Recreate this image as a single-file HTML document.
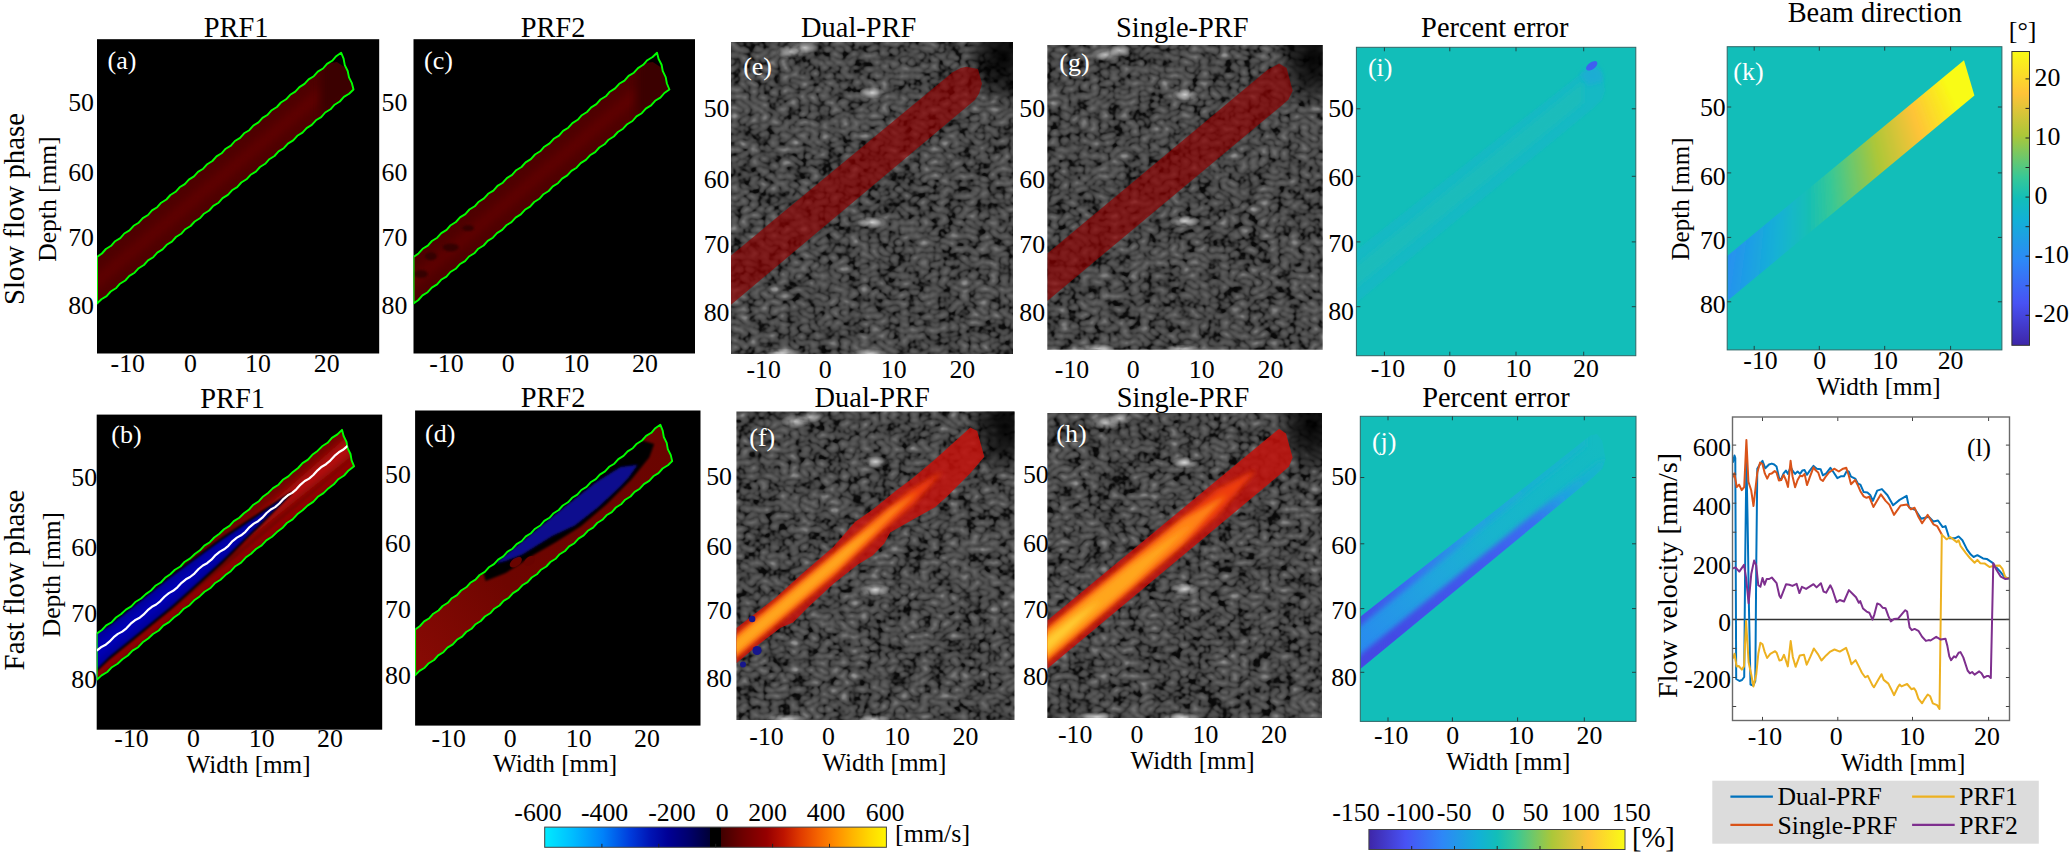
<!DOCTYPE html>
<html lang="en"><head><meta charset="utf-8"><title>Dual-PRF vector flow figure</title>
<style>
html,body{margin:0;padding:0;background:#fff;}
body{width:2070px;height:854px;overflow:hidden;}
svg{display:block;font-family:"Liberation Serif", serif;}
</style></head><body>
<svg width="2070" height="854" viewBox="0 0 2070 854">
<defs><clipPath id="cp_a"><rect x="97.0" y="39.2" width="282.2" height="314.3"/></clipPath>
<clipPath id="cp_c"><rect x="413.5" y="39.2" width="281.5" height="314.3"/></clipPath>
<clipPath id="cp_e"><rect x="730.9" y="42.0" width="282.1" height="312.1"/></clipPath>
<clipPath id="cp_g"><rect x="1047.3" y="45.0" width="275.4" height="304.7"/></clipPath>
<clipPath id="cp_i"><rect x="1356.4" y="47.3" width="279.4" height="308.4"/></clipPath>
<clipPath id="cp_k"><rect x="1727.2" y="46.7" width="274.7" height="303.2"/></clipPath>
<clipPath id="cp_b"><rect x="96.7" y="414.6" width="285.5" height="315.1"/></clipPath>
<clipPath id="cp_d"><rect x="415.1" y="410.5" width="285.4" height="315.1"/></clipPath>
<clipPath id="cp_f"><rect x="736.4" y="411.6" width="278.1" height="308.3"/></clipPath>
<clipPath id="cp_h"><rect x="1047.3" y="413.0" width="274.7" height="304.9"/></clipPath>
<clipPath id="cp_j"><rect x="1360.3" y="416.3" width="275.7" height="305.1"/></clipPath>
<clipPath id="cp_l"><rect x="1732.6" y="417.4" width="276.9" height="303.1"/></clipPath>

<filter id="spk" x="0" y="0" width="100%" height="100%" color-interpolation-filters="sRGB">
  <feTurbulence type="turbulence" baseFrequency="0.10 0.15" numOctaves="2" seed="7" result="n"/>
  <feColorMatrix in="n" type="matrix" values="1 0 0 0 0  1 0 0 0 0  1 0 0 0 0  0 0 0 0 1" result="g"/>
  <feGaussianBlur in="g" stdDeviation="0.9" result="gb"/>
  <feComponentTransfer in="gb" result="gt">
    <feFuncR type="table" tableValues="0.020 0.025 0.031 0.036 0.059 0.135 0.187 0.230 0.255 0.280 0.293 0.305 0.317 0.327 0.337 0.346 0.357 0.369 0.383 0.399 0.415 0.431 0.451 0.471 0.490 0.510 0.530 0.550 0.565 0.581 0.596 0.611 0.627 0.642 0.658 0.673 0.688 0.704 0.719 0.735 0.750"/>
    <feFuncG type="table" tableValues="0.020 0.025 0.031 0.036 0.059 0.135 0.187 0.230 0.255 0.280 0.293 0.305 0.317 0.327 0.337 0.346 0.357 0.369 0.383 0.399 0.415 0.431 0.451 0.471 0.490 0.510 0.530 0.550 0.565 0.581 0.596 0.611 0.627 0.642 0.658 0.673 0.688 0.704 0.719 0.735 0.750"/>
    <feFuncB type="table" tableValues="0.020 0.025 0.031 0.036 0.059 0.135 0.187 0.230 0.255 0.280 0.293 0.305 0.317 0.327 0.337 0.346 0.357 0.369 0.383 0.399 0.415 0.431 0.451 0.471 0.490 0.510 0.530 0.550 0.565 0.581 0.596 0.611 0.627 0.642 0.658 0.673 0.688 0.704 0.719 0.735 0.750"/>
  </feComponentTransfer>
  <feGaussianBlur in="gt" stdDeviation="0.5"/>
</filter>
<filter id="b1" x="-20%" y="-20%" width="140%" height="140%"><feGaussianBlur stdDeviation="1.2"/></filter>
<filter id="b2" x="-20%" y="-20%" width="140%" height="140%"><feGaussianBlur stdDeviation="2.5"/></filter>
<filter id="b3" x="-20%" y="-20%" width="140%" height="140%"><feGaussianBlur stdDeviation="4"/></filter>
<filter id="b6" x="-30%" y="-30%" width="160%" height="160%"><feGaussianBlur stdDeviation="7"/></filter>
<radialGradient id="dk" cx="0.5" cy="0.5" r="0.5">
  <stop offset="0" stop-color="#000" stop-opacity="0.95"/>
  <stop offset="0.5" stop-color="#000" stop-opacity="0.6"/>
  <stop offset="1" stop-color="#000" stop-opacity="0"/>
</radialGradient>
<radialGradient id="br" cx="0.5" cy="0.5" r="0.5">
  <stop offset="0" stop-color="#fff" stop-opacity="0.72"/>
  <stop offset="0.5" stop-color="#fff" stop-opacity="0.36"/>
  <stop offset="1" stop-color="#fff" stop-opacity="0"/>
</radialGradient>

<linearGradient id="parH" x1="0" x2="1" y1="0" y2="0"><stop offset="0.0000" stop-color="rgb(62,38,168)"/><stop offset="0.1429" stop-color="rgb(72,82,244)"/><stop offset="0.2857" stop-color="rgb(46,135,247)"/><stop offset="0.4286" stop-color="rgb(18,177,214)"/><stop offset="0.5000" stop-color="rgb(18,190,185)"/><stop offset="0.5714" stop-color="rgb(55,200,151)"/><stop offset="0.7143" stop-color="rgb(171,199,57)"/><stop offset="0.8571" stop-color="rgb(254,195,56)"/><stop offset="1.0000" stop-color="rgb(249,251,21)"/></linearGradient>
<linearGradient id="parV" x1="0" x2="0" y1="1" y2="0"><stop offset="0.0000" stop-color="rgb(62,38,168)"/><stop offset="0.1429" stop-color="rgb(72,82,244)"/><stop offset="0.2857" stop-color="rgb(46,135,247)"/><stop offset="0.4286" stop-color="rgb(18,177,214)"/><stop offset="0.5000" stop-color="rgb(18,190,185)"/><stop offset="0.5714" stop-color="rgb(55,200,151)"/><stop offset="0.7143" stop-color="rgb(171,199,57)"/><stop offset="0.8571" stop-color="rgb(254,195,56)"/><stop offset="1.0000" stop-color="rgb(249,251,21)"/></linearGradient>
<linearGradient id="velH" x1="0" x2="1" y1="0" y2="0"><stop offset="0.0000" stop-color="rgb(0,235,255)"/><stop offset="0.0800" stop-color="rgb(0,190,255)"/><stop offset="0.1700" stop-color="rgb(0,130,250)"/><stop offset="0.2500" stop-color="rgb(0,60,220)"/><stop offset="0.3100" stop-color="rgb(0,20,180)"/><stop offset="0.3600" stop-color="rgb(0,0,150)"/><stop offset="0.4200" stop-color="rgb(0,0,110)"/><stop offset="0.4834" stop-color="rgb(0,0,55)"/><stop offset="0.4836" stop-color="rgb(0,0,0)"/><stop offset="0.5165" stop-color="rgb(0,0,0)"/><stop offset="0.5167" stop-color="rgb(65,0,0)"/><stop offset="0.5800" stop-color="rgb(110,0,0)"/><stop offset="0.6500" stop-color="rgb(150,0,0)"/><stop offset="0.7000" stop-color="rgb(190,20,0)"/><stop offset="0.7500" stop-color="rgb(225,60,0)"/><stop offset="0.8000" stop-color="rgb(245,100,0)"/><stop offset="0.8500" stop-color="rgb(255,140,0)"/><stop offset="0.9000" stop-color="rgb(255,180,0)"/><stop offset="0.9500" stop-color="rgb(255,215,0)"/><stop offset="1.0000" stop-color="rgb(255,245,0)"/></linearGradient>
<clipPath id="cb_a"><polygon points="97.0,257.0 341.1,52.7 353.5,89.5 97.0,303.5"/></clipPath>
<clipPath id="cb_c"><polygon points="413.5,257.0 657.0,52.7 669.4,89.5 413.5,303.5"/></clipPath>
<clipPath id="cb_b"><polygon points="96.7,633.6 121.2,614.0 145.8,594.1 170.3,574.2 194.8,554.0 219.4,533.7 243.9,513.3 268.4,492.7 292.9,471.9 317.5,450.9 342.0,429.8 354.1,466.3 328.3,488.4 302.6,510.3 276.9,532.1 251.1,553.7 225.4,575.1 199.7,596.4 173.9,617.5 148.2,638.5 122.4,659.3 96.7,679.9"/></clipPath>
<clipPath id="cb_d"><polygon points="415.1,629.5 660.3,424.7 672.2,461.1 415.1,675.2"/></clipPath>
<linearGradient id="gd" gradientUnits="userSpaceOnUse" x1="415.1" y1="652.2" x2="666.8" y2="443.0"><stop offset="0" stop-color="#860a04"/><stop offset="0.35" stop-color="#6e0500"/><stop offset="1" stop-color="#6a0400"/></linearGradient>
<clipPath id="cp_bf"><polygon points="736.4,628.0 775.3,598.1 801.8,574.1 833.2,546.9 854.9,522.0 872.7,509.6 895.5,491.1 911.6,479.1 935.1,459.2 970.3,427.6 977.2,431.0 984.3,456.8 970.3,473.2 958.5,484.9 946.8,496.7 935.1,507.2 913.0,519.5 890.2,532.5 884.3,543.6 872.7,555.6 857.9,564.5 833.2,583.9 808.7,606.8 793.1,622.5 780.6,627.7 757.8,645.3 736.4,663.2"/></clipPath>
<clipPath id="cp_bh"><polygon points="1047.3,620.6 1279.1,428.7 1286.0,433.4 1292.6,457.4 1289.0,466.4 1279.7,474.7 1047.3,668.8"/></clipPath>
<linearGradient id="gj" gradientUnits="userSpaceOnUse" x1="1360.3" y1="642.7" x2="1600.7" y2="446.8"><stop offset="0" stop-color="rgb(40,140,238)"/><stop offset="0.3" stop-color="rgb(32,165,222)"/><stop offset="0.55" stop-color="rgb(24,180,205)"/><stop offset="0.8" stop-color="rgb(20,185,198)"/><stop offset="1" stop-color="rgb(20,187,194)"/></linearGradient>
<linearGradient id="gjl" gradientUnits="userSpaceOnUse" x1="1360.3" y1="642.7" x2="1600.7" y2="446.8"><stop offset="0" stop-color="rgb(68,70,226)"/><stop offset="0.5" stop-color="rgb(64,92,238)"/><stop offset="0.68" stop-color="rgb(56,112,240)"/><stop offset="0.80" stop-color="rgb(32,160,226)"/><stop offset="0.9" stop-color="rgb(24,178,208)"/><stop offset="1" stop-color="rgb(21,184,200)"/></linearGradient>
<linearGradient id="gju" gradientUnits="userSpaceOnUse" x1="1360.3" y1="642.7" x2="1600.7" y2="446.8"><stop offset="0" stop-color="rgb(66,74,228)"/><stop offset="0.25" stop-color="rgb(56,110,240)"/><stop offset="0.5" stop-color="rgb(34,160,226)"/><stop offset="0.75" stop-color="rgb(24,178,208)"/><stop offset="1" stop-color="rgb(21,184,200)"/></linearGradient>
<clipPath id="cb_j"><polygon points="1360.3,616.8 1580.9,443.1 1590.5,435.2 1596.9,433.7 1602.4,440.7 1605.7,459.0 1602.4,468.8 1591.9,478.2 1360.3,668.9"/></clipPath>
<clipPath id="cb_k"><polygon points="1727.2,255.9 1964.0,60.2 1974.4,95.5 1727.2,301.1"/></clipPath></defs>
<rect x="0" y="0" width="2070" height="854" fill="#fff"/>
<rect x="97.0" y="39.2" width="282.2" height="314.3" fill="#000" />
<g clip-path="url(#cp_a)">
<g clip-path="url(#cb_a)">
<polygon points="97.0,257.0 341.1,52.7 353.5,89.5 97.0,303.5" fill="#4e0000"/>
<polygon points="92.0,277.5 321.0,85.5 321.0,101.2 92.0,293.2" fill="#5e0000" filter="url(#b3)"/>
<polygon points="321.0,64.2 358.3,32.9 358.3,89.4 321.0,120.7" fill="#3a0000" filter="url(#b3)"/>
<polygon points="324.2,63.7 343.9,49.6 344.5,66.9 336.9,62.1" fill="#000"/>
</g>
<polygon points="97.0,257.0 101.9,253.5 105.9,249.0 111.1,245.8 115.1,241.2 120.3,238.1 124.3,233.5 129.5,230.4 133.6,225.8 138.7,222.7 142.8,218.1 148.0,215.0 152.0,210.4 157.2,207.2 161.2,202.7 166.4,199.5 170.4,195.0 175.6,191.8 179.6,187.3 184.8,184.1 188.8,179.6 194.0,176.4 198.0,171.9 203.2,168.7 207.2,164.2 212.4,161.0 216.5,156.4 221.6,153.3 225.7,148.7 230.9,145.6 234.9,141.0 240.1,137.9 244.1,133.3 249.3,130.2 253.3,125.6 258.5,122.4 262.5,117.9 267.7,114.7 271.7,110.2 276.9,107.0 280.9,102.5 286.1,99.3 290.2,94.8 295.3,91.6 299.4,87.1 304.5,83.9 308.6,79.4 313.8,76.2 317.8,71.6 323.0,68.5 327.0,63.9 332.2,60.8 336.2,56.2 341.1,52.7 343.6,58.7 344.8,65.1 347.7,71.0 349.0,77.4 351.9,83.2 353.5,89.5 349.1,93.7 343.9,96.9 339.8,101.5 334.6,104.7 330.5,109.3 325.2,112.5 321.2,117.1 315.9,120.3 311.8,124.9 306.6,128.1 302.5,132.6 297.3,135.8 293.2,140.4 287.9,143.6 283.8,148.2 278.6,151.4 274.5,156.0 269.3,159.2 265.2,163.8 260.0,167.0 255.9,171.6 250.6,174.8 246.5,179.3 241.3,182.5 237.2,187.1 232.0,190.3 227.9,194.9 222.6,198.1 218.6,202.7 213.3,205.9 209.2,210.5 204.0,213.7 199.9,218.3 194.7,221.5 190.6,226.0 185.3,229.2 181.2,233.8 176.0,237.0 171.9,241.6 166.7,244.8 162.6,249.4 157.3,252.6 153.3,257.2 148.0,260.4 143.9,265.0 138.7,268.2 134.6,272.7 129.4,275.9 125.3,280.5 120.0,283.7 115.9,288.3 110.7,291.5 106.6,296.1 101.4,299.3 97.0,303.5 97.0,296.9 97.0,290.2 97.0,283.6 97.0,276.9 97.0,270.3 97.0,263.7" fill="none" stroke="#00ff00" stroke-width="1.9" stroke-linejoin="round"/>
</g>
<rect x="413.5" y="39.2" width="281.5" height="314.3" fill="#000" />
<g clip-path="url(#cp_c)">
<g clip-path="url(#cb_c)">
<polygon points="413.5,257.0 657.0,52.7 669.4,89.5 413.5,303.5" fill="#4e0000"/>
<polygon points="408.5,277.5 637.0,85.5 637.0,101.2 408.5,293.2" fill="#5e0000" filter="url(#b3)"/>
<ellipse cx="420.9" cy="274.0" rx="7" ry="4" fill="#360000" filter="url(#b1)"/>
<ellipse cx="430.9" cy="256.2" rx="6" ry="4" fill="#360000" filter="url(#b1)"/>
<ellipse cx="450.7" cy="247.4" rx="8" ry="4" fill="#360000" filter="url(#b1)"/>
<ellipse cx="468.1" cy="228.1" rx="6" ry="3" fill="#360000" filter="url(#b1)"/>
<polygon points="637.0,64.2 674.2,32.9 674.2,89.4 637.0,120.7" fill="#3a0000" filter="url(#b3)"/>
<polygon points="640.1,63.7 659.8,49.6 660.4,66.9 652.8,62.1" fill="#000"/>
</g>
<polygon points="413.5,257.0 418.5,253.4 422.6,248.8 427.8,245.6 431.9,241.0 437.2,237.7 441.3,233.1 446.6,229.9 450.7,225.2 455.9,222.0 460.0,217.4 465.3,214.1 469.4,209.5 474.7,206.3 478.8,201.7 484.0,198.4 488.1,193.8 493.4,190.6 497.5,185.9 502.8,182.7 506.9,178.1 512.1,174.9 516.2,170.2 521.5,167.0 525.6,162.4 530.9,159.1 535.0,154.5 540.2,151.3 544.3,146.7 549.6,143.4 553.7,138.8 559.0,135.6 563.1,130.9 568.3,127.7 572.4,123.1 577.7,119.8 581.8,115.2 587.0,112.0 591.2,107.4 596.4,104.1 600.5,99.5 605.8,96.3 609.9,91.7 615.1,88.4 619.2,83.8 624.5,80.6 628.6,75.9 633.9,72.7 638.0,68.1 643.2,64.8 647.3,60.2 652.6,57.0 657.0,52.7 658.6,59.0 661.6,64.8 662.8,71.2 665.7,77.1 666.9,83.5 669.4,89.5 664.4,93.0 660.4,97.6 655.1,100.8 651.1,105.4 645.8,108.6 641.8,113.2 636.5,116.4 632.5,121.0 627.2,124.2 623.1,128.7 617.9,132.0 613.8,136.5 608.6,139.7 604.5,144.3 599.3,147.5 595.2,152.1 590.0,155.3 585.9,159.9 580.7,163.1 576.6,167.7 571.4,170.9 567.3,175.4 562.1,178.6 558.0,183.2 552.8,186.4 548.7,191.0 543.5,194.2 539.4,198.8 534.2,202.0 530.1,206.6 524.9,209.8 520.8,214.4 515.6,217.6 511.5,222.1 506.3,225.3 502.2,229.9 497.0,233.1 492.9,237.7 487.7,240.9 483.6,245.5 478.3,248.7 474.3,253.3 469.0,256.5 465.0,261.1 459.7,264.3 455.7,268.8 450.4,272.0 446.4,276.6 441.1,279.8 437.1,284.4 431.8,287.6 427.7,292.2 422.5,295.4 418.4,300.0 413.5,303.5 413.5,296.9 413.5,290.2 413.5,283.6 413.5,276.9 413.5,270.3 413.5,263.7" fill="none" stroke="#00ff00" stroke-width="1.9" stroke-linejoin="round"/>
</g>
<rect x="96.7" y="414.6" width="285.5" height="315.1" fill="#000" />
<g clip-path="url(#cp_b)">
<g clip-path="url(#cb_b)">
<polygon points="96.7,633.6 121.2,614.0 145.8,594.1 170.3,574.2 194.8,554.0 219.4,533.7 243.9,513.3 268.4,492.7 292.9,471.9 317.5,450.9 342.0,429.8 354.1,466.3 328.3,488.4 302.6,510.3 276.9,532.1 251.1,553.7 225.4,575.1 199.7,596.4 173.9,617.5 148.2,638.5 122.4,659.3 96.7,679.9" fill="#6e0400"/>
<polygon points="71.5,690.2 96.7,669.5 121.9,649.6 147.1,629.5 172.2,609.2 197.4,588.8 222.6,568.2 247.8,547.5 273.0,526.5 298.1,505.5 323.3,484.2 348.5,462.8 373.7,442.1 373.7,449.7 348.5,470.4 323.3,491.8 298.1,513.0 273.0,534.1 247.8,555.0 222.6,575.8 197.4,596.4 172.2,616.8 147.1,637.0 121.9,657.1 96.7,677.1 71.5,697.7" fill="#8c0602" filter="url(#b1)"/>
<polygon points="235.2,534.5 353.5,430.9 353.5,454.6 235.2,549.0" fill="#b41008" filter="url(#b3)"/>
<polygon points="91.7,634.6 109.3,623.0 172.2,573.3 222.6,536.7 260.4,511.8 291.9,491.2 291.9,493.7 260.4,525.7 222.6,563.2 172.2,608.6 109.3,659.6 91.7,676.2" fill="#000" filter="url(#b1)"/>
<polygon points="91.7,636.5 109.3,625.9 172.2,576.1 222.6,539.5 260.4,514.3 285.6,497.1 285.6,498.4 260.4,523.2 222.6,560.3 172.2,605.8 109.3,656.7 91.7,674.3" fill="#06069c" filter="url(#b1)"/>
<polygon points="91.7,645.9 172.2,583.4 222.6,545.5 252.8,524.1 252.8,526.0 222.6,554.3 172.2,598.5 91.7,664.8" fill="#0404b4" filter="url(#b2)"/>
</g>
<polygon points="96.7,633.6 101.9,630.0 106.2,625.4 111.7,622.2 116.0,617.5 121.2,614.0 125.9,609.6 131.3,606.4 135.7,601.7 141.1,598.5 145.8,594.1 151.0,590.5 155.3,585.8 160.8,582.5 165.1,577.8 170.3,574.2 174.9,569.8 180.4,566.5 184.7,561.7 190.2,558.4 194.8,554.0 200.0,550.3 204.3,545.6 209.8,542.2 214.2,537.5 219.4,533.7 224.0,529.3 229.5,525.9 233.8,521.1 239.3,517.7 243.9,513.3 249.1,509.5 253.4,504.7 258.9,501.2 263.2,496.4 268.4,492.7 273.0,488.1 278.5,484.7 282.8,479.8 288.3,476.4 292.9,471.9 298.1,468.0 302.5,463.1 308.0,459.6 312.3,454.8 317.5,450.9 322.1,446.3 327.6,442.8 331.9,437.9 337.4,434.4 342.0,429.8 343.6,436.0 346.5,441.8 347.6,448.2 350.5,454.0 351.6,460.3 354.1,466.3 348.6,470.4 344.1,475.5 338.3,479.2 333.8,484.3 328.3,488.4 323.5,493.1 317.8,496.8 313.2,501.9 307.5,505.6 302.6,510.3 297.2,514.3 292.6,519.4 286.9,523.0 282.3,528.1 276.9,532.1 272.0,536.8 266.3,540.4 261.7,545.4 256.0,549.0 251.1,553.7 245.7,557.6 241.1,562.6 235.4,566.2 230.8,571.2 225.4,575.1 220.5,579.7 214.8,583.3 210.2,588.3 204.5,591.8 199.7,596.4 194.2,600.3 189.6,605.2 183.9,608.7 179.3,613.7 173.9,617.5 169.1,622.1 163.3,625.6 158.8,630.5 153.0,634.0 148.2,638.5 142.7,642.3 138.2,647.2 132.5,650.6 127.9,655.5 122.4,659.3 117.6,663.8 111.9,667.2 107.3,672.0 101.6,675.4 96.7,679.9 96.7,673.3 96.7,666.7 96.7,660.1 96.7,653.4 96.7,646.8 96.7,640.2" fill="none" stroke="#00ff00" stroke-width="1.9" stroke-linejoin="round"/>
<polyline points="96.7,650.7 100.9,647.3 105.2,645.1 109.4,641.7 113.7,637.2 117.9,633.9 122.2,631.6 126.4,628.3 130.7,623.7 134.9,620.3 139.2,618.1 143.4,614.7 147.7,610.2 151.9,606.8 156.2,604.5 160.4,601.1 164.7,596.5 168.9,593.1 173.1,590.8 177.4,587.3 181.6,582.8 185.9,579.3 190.1,577.0 194.4,573.6 198.6,569.0 202.9,565.5 207.1,563.2 211.4,559.7 215.6,555.1 219.9,551.6 224.1,549.3 228.4,545.8 232.6,541.1 236.9,537.6 241.1,535.3 245.4,531.8 249.6,527.1 253.8,523.6 258.1,521.2 262.3,517.7 266.6,513.0 270.8,509.5 275.1,507.1 279.3,503.5 283.6,498.8 287.8,495.3 292.1,492.9 296.3,489.3 300.6,484.6 304.8,481.0 309.1,478.6 313.3,475.0 317.6,470.3 321.8,466.7 326.0,464.2 330.3,460.6 334.5,455.9 338.8,452.3 343.0,449.8 347.3,446.1 351.5,441.5" fill="none" stroke="#fff" stroke-width="2.2" stroke-linejoin="round" clip-path="url(#cb_b)"/>
</g>
<rect x="415.1" y="410.5" width="285.4" height="315.1" fill="#000" />
<g clip-path="url(#cp_d)">
<g clip-path="url(#cb_d)">
<polygon points="415.1,629.5 660.3,424.7 672.2,461.1 415.1,675.2" fill="url(#gd)"/>
<polygon points="483.1,572.1 485.6,581.0 505.7,573.1 533.4,555.1 556.1,541.9 581.2,526.1 606.4,504.5 631.6,479.2 649.2,457.6 654.2,444.0 641.7,440.2" fill="#000" filter="url(#b1)"/>
<ellipse cx="515.8" cy="562.2" rx="7" ry="4" fill="#6a0400" transform="rotate(-38 515.8 562.2)"/>
<ellipse cx="529.6" cy="560.8" rx="6" ry="4" fill="#6a0400" transform="rotate(-38 529.6 560.8)"/>
<polygon points="495.4,563.4 528.4,536.6 566.1,505.8 596.3,482.0 620.5,467.0 637.6,464.7 629.1,476.9 620.5,486.5 597.9,507.5 574.9,525.6 552.3,535.9 522.1,554.8 505.7,561.1" fill="#0c0c8e" filter="url(#b1)"/>
</g>
<polygon points="415.1,629.5 420.0,626.0 424.1,621.4 429.3,618.2 433.3,613.7 438.5,610.5 442.6,606.0 447.8,602.8 451.8,598.2 457.0,595.1 461.1,590.5 466.3,587.3 470.3,582.8 475.5,579.6 479.6,575.0 484.8,571.9 488.8,567.3 494.0,564.1 498.1,559.6 503.3,556.4 507.3,551.9 512.5,548.7 516.6,544.1 521.8,541.0 525.8,536.4 531.0,533.2 535.1,528.7 540.3,525.5 544.3,520.9 549.5,517.8 553.6,513.2 558.8,510.0 562.8,505.5 568.0,502.3 572.1,497.8 577.3,494.6 581.3,490.0 586.5,486.9 590.6,482.3 595.8,479.1 599.8,474.6 605.0,471.4 609.1,466.8 614.3,463.7 618.3,459.1 623.5,455.9 627.6,451.4 632.8,448.2 636.8,443.7 642.0,440.5 646.1,435.9 651.3,432.8 655.3,428.2 660.3,424.7 662.7,430.6 663.8,437.0 666.7,442.8 667.8,449.1 670.7,454.9 672.2,461.1 667.9,465.3 662.6,468.5 658.5,473.1 653.3,476.3 649.2,480.9 643.9,484.1 639.8,488.7 634.6,491.9 630.5,496.5 625.2,499.7 621.1,504.3 615.9,507.5 611.8,512.1 606.5,515.3 602.4,519.8 597.2,523.0 593.1,527.6 587.8,530.8 583.7,535.4 578.5,538.6 574.4,543.2 569.1,546.4 565.0,551.0 559.7,554.2 555.6,558.8 550.4,562.0 546.3,566.5 541.0,569.7 536.9,574.3 531.7,577.5 527.6,582.1 522.3,585.3 518.2,589.9 513.0,593.1 508.9,597.7 503.6,600.9 499.5,605.5 494.3,608.7 490.2,613.3 484.9,616.5 480.8,621.0 475.6,624.2 471.5,628.8 466.2,632.0 462.1,636.6 456.9,639.8 452.8,644.4 447.5,647.6 443.4,652.2 438.2,655.4 434.1,660.0 428.8,663.2 424.7,667.7 419.5,670.9 415.1,675.2 415.1,668.7 415.1,662.1 415.1,655.6 415.1,649.1 415.1,642.5 415.1,636.0" fill="none" stroke="#00ff00" stroke-width="1.9" stroke-linejoin="round"/>
</g>
<g clip-path="url(#cp_e)">
<rect x="726.9" y="38.0" width="290.1" height="320.1" fill="#444" filter="url(#spk)"/>
<ellipse cx="1003.1" cy="56.0" rx="39.5" ry="53.1" fill="url(#dk)"/>
<ellipse cx="790.4" cy="52.0" rx="14.0" ry="7.0" fill="url(#br)" opacity="0.85"/>
<ellipse cx="804.8" cy="47.6" rx="13.0" ry="6.0" fill="url(#br)" opacity="0.85"/>
<ellipse cx="872.0" cy="92.9" rx="13.0" ry="6.0" fill="url(#br)" opacity="1"/>
<ellipse cx="872.0" cy="222.4" rx="15.0" ry="6.0" fill="url(#br)" opacity="1"/>
<ellipse cx="781.7" cy="353.2" rx="20.0" ry="5.0" fill="url(#br)" opacity="1"/>
<ellipse cx="869.1" cy="353.8" rx="18.0" ry="5.0" fill="url(#br)" opacity="1"/>
<polygon points="730.9,255.5 952.6,72.3 960.8,67.9 966.7,66.7 978.0,69.0 982.0,83.8 979.1,93.5 974.9,100.1 730.9,304.8" fill="#900000" fill-opacity="0.68"/>
</g>
<g clip-path="url(#cp_g)">
<rect x="1043.3" y="41.0" width="283.4" height="312.7" fill="#444" filter="url(#spk)"/>
<ellipse cx="1313.1" cy="58.7" rx="38.6" ry="51.8" fill="url(#dk)"/>
<ellipse cx="1105.4" cy="54.8" rx="14.0" ry="7.0" fill="url(#br)" opacity="0.85"/>
<ellipse cx="1119.5" cy="50.5" rx="13.0" ry="6.0" fill="url(#br)" opacity="0.85"/>
<ellipse cx="1185.0" cy="94.7" rx="13.0" ry="6.0" fill="url(#br)" opacity="1"/>
<ellipse cx="1185.0" cy="221.1" rx="15.0" ry="6.0" fill="url(#br)" opacity="1"/>
<ellipse cx="1096.9" cy="348.8" rx="20.0" ry="5.0" fill="url(#br)" opacity="1"/>
<ellipse cx="1182.2" cy="349.4" rx="18.0" ry="5.0" fill="url(#br)" opacity="1"/>
<polygon points="1047.3,253.4 1267.6,69.7 1279.1,63.4 1286.6,68.1 1292.7,90.7 1288.3,99.8 1280.3,106.7 1047.3,300.9" fill="#900000" fill-opacity="0.68"/>
</g>
<g clip-path="url(#cp_f)">
<rect x="732.4" y="407.6" width="286.1" height="316.3" fill="#444" filter="url(#spk)"/>
<ellipse cx="1004.8" cy="425.5" rx="38.9" ry="52.4" fill="url(#dk)"/>
<ellipse cx="795.1" cy="421.5" rx="14.0" ry="7.0" fill="url(#br)" opacity="0.85"/>
<ellipse cx="809.3" cy="417.1" rx="13.0" ry="6.0" fill="url(#br)" opacity="0.85"/>
<ellipse cx="875.5" cy="461.9" rx="13.0" ry="6.0" fill="url(#br)" opacity="1"/>
<ellipse cx="875.5" cy="589.8" rx="15.0" ry="6.0" fill="url(#br)" opacity="1"/>
<ellipse cx="786.5" cy="719.0" rx="20.0" ry="5.0" fill="url(#br)" opacity="1"/>
<ellipse cx="872.7" cy="719.6" rx="18.0" ry="5.0" fill="url(#br)" opacity="1"/>
<polygon points="736.4,628.0 775.3,598.1 801.8,574.1 833.2,546.9 854.9,522.0 872.7,509.6 895.5,491.1 911.6,479.1 935.1,459.2 970.3,427.6 977.2,431.0 984.3,456.8 970.3,473.2 958.5,484.9 946.8,496.7 935.1,507.2 913.0,519.5 890.2,532.5 884.3,543.6 872.7,555.6 857.9,564.5 833.2,583.9 808.7,606.8 793.1,622.5 780.6,627.7 757.8,645.3 736.4,663.2" fill="#c4120c" fill-opacity="0.86"/>
<g clip-path="url(#cp_bf)">
<polygon points="731.5,638.0 834.5,552.6 908.1,491.8 942.4,471.2 913.0,504.4 883.6,529.6 834.5,575.4 731.5,662.0" fill="#ee3c0a" filter="url(#b2)"/>
<polygon points="731.5,640.4 834.5,554.8 888.5,509.4 917.9,491.6 878.7,530.6 834.5,573.0 731.5,659.6" fill="#ff8212" filter="url(#b2)"/>
<polygon points="731.5,643.5 785.5,598.2 846.8,546.7 878.7,524.4 839.4,564.6 785.5,611.1 731.5,656.5" fill="#ffa61c" filter="url(#b2)"/>
</g>
<circle cx="752.2" cy="619.0" r="3.2" fill="#16168c"/>
<circle cx="757.0" cy="650.5" r="4.6" fill="#16168c"/>
<circle cx="743.0" cy="664.5" r="3.0" fill="#16168c"/>
</g>
<g clip-path="url(#cp_h)">
<rect x="1043.3" y="409.0" width="282.7" height="312.9" fill="#444" filter="url(#spk)"/>
<ellipse cx="1312.4" cy="426.7" rx="38.5" ry="51.8" fill="url(#dk)"/>
<ellipse cx="1105.3" cy="422.8" rx="14.0" ry="7.0" fill="url(#br)" opacity="0.85"/>
<ellipse cx="1119.3" cy="418.5" rx="13.0" ry="6.0" fill="url(#br)" opacity="0.85"/>
<ellipse cx="1184.7" cy="462.7" rx="13.0" ry="6.0" fill="url(#br)" opacity="1"/>
<ellipse cx="1184.7" cy="589.2" rx="15.0" ry="6.0" fill="url(#br)" opacity="1"/>
<ellipse cx="1096.7" cy="717.0" rx="20.0" ry="5.0" fill="url(#br)" opacity="1"/>
<ellipse cx="1181.9" cy="717.6" rx="18.0" ry="5.0" fill="url(#br)" opacity="1"/>
<polygon points="1047.3,620.6 1279.1,428.7 1286.0,433.4 1292.6,457.4 1289.0,466.4 1279.7,474.7 1047.3,668.8" fill="#c4120c" fill-opacity="0.86"/>
<g clip-path="url(#cp_bh)">
<polygon points="1042.5,631.4 1216.9,489.3 1255.7,470.3 1216.9,516.1 1042.5,665.5" fill="#ee3c0a" filter="url(#b2)"/>
<polygon points="1042.5,633.2 1183.0,518.8 1226.6,494.6 1183.0,543.2 1042.5,663.7" fill="#ff8212" filter="url(#b2)"/>
<polygon points="1042.5,636.9 1132.1,564.4 1192.7,522.9 1132.1,582.7 1042.5,660.1" fill="#ffa61c" filter="url(#b2)"/>
<polygon points="1042.5,641.2 1071.5,619.3 1100.6,599.9 1071.5,629.1 1042.5,655.8" fill="#ffcc30" filter="url(#b2)"/>
</g>
</g>
<rect x="1356.4" y="47.3" width="279.4" height="308.4" fill="rgb(18,190,185)" />
<g clip-path="url(#cp_i)">
<polygon points="1356.4,249.9 1579.9,74.4 1589.7,66.4 1596.1,64.9 1601.7,72.0 1605.1,90.5 1601.7,100.3 1591.1,109.9 1356.4,302.7" fill="rgb(24,176,210)" fill-opacity="0.42" filter="url(#b1)"/>
<polygon points="1351.5,269.3 1583.0,81.2 1583.0,102.8 1351.5,290.9" fill="rgb(30,192,180)" fill-opacity="0.55" filter="url(#b2)"/>
<polygon points="1579.9,74.4 1589.7,66.4 1596.1,64.9 1601.7,72.0 1603.4,81.2 1588.3,85.8" fill="rgb(30,160,228)" fill-opacity="0.45" filter="url(#b2)"/>
<ellipse cx="1591.7" cy="65.8" rx="6.5" ry="3.5" fill="rgb(62,96,240)" transform="rotate(-35 1591.7 65.8)"/>
</g>
<rect x="1356.4" y="47.3" width="279.4" height="308.4" fill="none" stroke="#2f6666" stroke-width="1"/>
<path d="M1384.4 47.3v4.0 M1384.4 355.7v-4.0 M1449.8 47.3v4.0 M1449.8 355.7v-4.0 M1516.0 47.3v4.0 M1516.0 355.7v-4.0 M1583.7 47.3v4.0 M1583.7 355.7v-4.0 M1356.4 108.8h4.0 M1635.8 108.8h-4.0 M1356.4 176.3h4.0 M1635.8 176.3h-4.0 M1356.4 241.9h4.0 M1635.8 241.9h-4.0 M1356.4 306.7h4.0 M1635.8 306.7h-4.0" stroke="#244" stroke-width="1" fill="none"/>
<rect x="1360.3" y="416.3" width="275.7" height="305.1" fill="rgb(18,190,185)" />
<g clip-path="url(#cp_j)">
<g clip-path="url(#cb_j)">
<polygon points="1360.3,616.8 1580.9,443.1 1590.5,435.2 1596.9,433.7 1602.4,440.7 1605.7,459.0 1602.4,468.8 1591.9,478.2 1360.3,668.9" fill="url(#gj)"/>
<polygon points="1354.8,678.7 1597.4,478.8 1608.4,459.0 1597.4,462.1 1354.8,658.9" fill="url(#gjl)" filter="url(#b2)"/>
<polygon points="1354.8,611.6 1586.4,430.0 1586.4,446.2 1354.8,629.9" fill="url(#gju)" filter="url(#b2)"/>
</g>
</g>
<rect x="1360.3" y="416.3" width="275.7" height="305.1" fill="none" stroke="#2f6666" stroke-width="1"/>
<path d="M1388.0 416.3v4.0 M1388.0 721.4v-4.0 M1452.4 416.3v4.0 M1452.4 721.4v-4.0 M1517.6 416.3v4.0 M1517.6 721.4v-4.0 M1584.3 416.3v4.0 M1584.3 721.4v-4.0 M1360.3 477.5h4.0 M1636.0 477.5h-4.0 M1360.3 543.8h4.0 M1636.0 543.8h-4.0 M1360.3 608.6h4.0 M1636.0 608.6h-4.0 M1360.3 672.3h4.0 M1636.0 672.3h-4.0" stroke="#244" stroke-width="1" fill="none"/>
<rect x="1727.2" y="46.7" width="274.7" height="303.2" fill="rgb(18,190,185)" />
<g clip-path="url(#cp_k)">
<g clip-path="url(#cb_k)"><g filter="url(#b1)">
<polygon points="1806,-218 1632.7,408.8 1640.5,410.9" fill="rgb(62,103,245)"/>
<polygon points="1806,-218 1638.3,410.3 1646.0,412.3" fill="rgb(60,107,245)"/>
<polygon points="1806,-218 1643.8,411.7 1651.5,413.6" fill="rgb(58,111,246)"/>
<polygon points="1806,-218 1649.3,413.1 1657.1,415.0" fill="rgb(56,114,246)"/>
<polygon points="1806,-218 1654.9,414.4 1662.7,416.2" fill="rgb(54,118,246)"/>
<polygon points="1806,-218 1660.4,415.7 1668.2,417.4" fill="rgb(52,122,246)"/>
<polygon points="1806,-218 1666.0,417.0 1673.8,418.6" fill="rgb(51,125,246)"/>
<polygon points="1806,-218 1671.6,418.1 1679.4,419.7" fill="rgb(49,129,247)"/>
<polygon points="1806,-218 1677.2,419.3 1685.0,420.8" fill="rgb(47,133,247)"/>
<polygon points="1806,-218 1682.8,420.4 1690.7,421.8" fill="rgb(45,136,246)"/>
<polygon points="1806,-218 1688.4,421.4 1696.3,422.8" fill="rgb(43,139,244)"/>
<polygon points="1806,-218 1694.0,422.4 1701.9,423.7" fill="rgb(41,142,241)"/>
<polygon points="1806,-218 1699.7,423.4 1707.6,424.6" fill="rgb(39,145,239)"/>
<polygon points="1806,-218 1705.3,424.3 1713.2,425.4" fill="rgb(37,148,237)"/>
<polygon points="1806,-218 1711.0,425.1 1718.9,426.2" fill="rgb(35,151,234)"/>
<polygon points="1806,-218 1716.6,425.9 1724.5,426.9" fill="rgb(33,154,232)"/>
<polygon points="1806,-218 1722.3,426.7 1730.2,427.6" fill="rgb(31,157,230)"/>
<polygon points="1806,-218 1727.9,427.4 1735.9,428.3" fill="rgb(29,160,228)"/>
<polygon points="1806,-218 1733.6,428.0 1741.6,428.8" fill="rgb(28,163,225)"/>
<polygon points="1806,-218 1739.3,428.6 1747.2,429.4" fill="rgb(26,166,223)"/>
<polygon points="1806,-218 1745.0,429.2 1752.9,429.9" fill="rgb(24,169,221)"/>
<polygon points="1806,-218 1750.7,429.7 1758.6,430.3" fill="rgb(22,172,218)"/>
<polygon points="1806,-218 1756.4,430.1 1764.3,430.7" fill="rgb(20,174,216)"/>
<polygon points="1806,-218 1762.1,430.5 1770.0,431.0" fill="rgb(18,177,213)"/>
<polygon points="1806,-218 1767.8,430.9 1775.7,431.3" fill="rgb(18,179,209)"/>
<polygon points="1806,-218 1773.5,431.2 1781.4,431.5" fill="rgb(18,181,205)"/>
<polygon points="1806,-218 1779.2,431.5 1787.2,431.7" fill="rgb(18,183,201)"/>
<polygon points="1806,-218 1784.9,431.7 1792.9,431.9" fill="rgb(18,185,197)"/>
<polygon points="1806,-218 1790.6,431.8 1798.6,432.0" fill="rgb(18,186,193)"/>
<polygon points="1806,-218 1796.3,431.9 1804.3,432.0" fill="rgb(18,188,189)"/>
<polygon points="1806,-218 1802.0,432.0 1810.0,432.0" fill="rgb(18,190,185)"/>
<polygon points="1806,-218 1807.7,432.0 1815.7,431.9" fill="rgb(23,191,180)"/>
<polygon points="1806,-218 1813.4,432.0 1821.4,431.8" fill="rgb(28,193,175)"/>
<polygon points="1806,-218 1819.1,431.9 1827.1,431.7" fill="rgb(34,194,171)"/>
<polygon points="1806,-218 1824.8,431.7 1832.8,431.5" fill="rgb(39,196,166)"/>
<polygon points="1806,-218 1830.6,431.5 1838.5,431.2" fill="rgb(44,197,161)"/>
<polygon points="1806,-218 1836.3,431.3 1844.2,430.9" fill="rgb(49,198,156)"/>
<polygon points="1806,-218 1842.0,431.0 1849.9,430.5" fill="rgb(54,200,152)"/>
<polygon points="1806,-218 1847.7,430.7 1855.6,430.1" fill="rgb(62,200,145)"/>
<polygon points="1806,-218 1853.4,430.3 1861.3,429.7" fill="rgb(70,200,139)"/>
<polygon points="1806,-218 1859.1,429.9 1867.0,429.2" fill="rgb(78,200,132)"/>
<polygon points="1806,-218 1864.8,429.4 1872.7,428.6" fill="rgb(86,200,126)"/>
<polygon points="1806,-218 1870.4,428.8 1878.4,428.0" fill="rgb(94,200,119)"/>
<polygon points="1806,-218 1876.1,428.3 1884.1,427.4" fill="rgb(103,200,112)"/>
<polygon points="1806,-218 1881.8,427.6 1889.7,426.7" fill="rgb(111,200,106)"/>
<polygon points="1806,-218 1887.5,426.9 1895.4,425.9" fill="rgb(119,199,99)"/>
<polygon points="1806,-218 1893.1,426.2 1901.0,425.1" fill="rgb(127,199,93)"/>
<polygon points="1806,-218 1898.8,425.4 1906.7,424.3" fill="rgb(135,199,86)"/>
<polygon points="1806,-218 1904.4,424.6 1912.3,423.4" fill="rgb(143,199,80)"/>
<polygon points="1806,-218 1910.1,423.7 1918.0,422.4" fill="rgb(151,199,73)"/>
<polygon points="1806,-218 1915.7,422.8 1923.6,421.4" fill="rgb(159,199,66)"/>
<polygon points="1806,-218 1921.3,421.8 1929.2,420.4" fill="rgb(168,199,60)"/>
<polygon points="1806,-218 1927.0,420.8 1934.8,419.3" fill="rgb(174,199,57)"/>
<polygon points="1806,-218 1932.6,419.7 1940.4,418.1" fill="rgb(180,199,57)"/>
<polygon points="1806,-218 1938.2,418.6 1946.0,417.0" fill="rgb(186,198,57)"/>
<polygon points="1806,-218 1943.8,417.4 1951.6,415.7" fill="rgb(192,198,57)"/>
<polygon points="1806,-218 1949.3,416.2 1957.1,414.4" fill="rgb(198,198,57)"/>
<polygon points="1806,-218 1954.9,415.0 1962.7,413.1" fill="rgb(203,197,57)"/>
<polygon points="1806,-218 1960.5,413.6 1968.2,411.7" fill="rgb(209,197,57)"/>
<polygon points="1806,-218 1966.0,412.3 1973.7,410.3" fill="rgb(215,197,56)"/>
<polygon points="1806,-218 1971.5,410.9 1979.3,408.8" fill="rgb(221,197,56)"/>
<polygon points="1806,-218 1977.1,409.4 1984.8,407.3" fill="rgb(227,196,56)"/>
<polygon points="1806,-218 1982.6,407.9 1990.2,405.7" fill="rgb(232,196,56)"/>
<polygon points="1806,-218 1988.1,406.3 1995.7,404.1" fill="rgb(238,196,56)"/>
<polygon points="1806,-218 1993.5,404.7 2001.2,402.4" fill="rgb(244,195,56)"/>
<polygon points="1806,-218 1999.0,403.1 2006.6,400.7" fill="rgb(250,195,56)"/>
<polygon points="1806,-218 2004.4,401.4 2012.1,398.9" fill="rgb(254,196,55)"/>
<polygon points="1806,-218 2009.9,399.7 2017.5,397.1" fill="rgb(254,200,53)"/>
<polygon points="1806,-218 2015.3,397.9 2022.9,395.3" fill="rgb(253,204,50)"/>
<polygon points="1806,-218 2020.7,396.0 2028.2,393.4" fill="rgb(253,208,48)"/>
<polygon points="1806,-218 2026.1,394.1 2033.6,391.4" fill="rgb(252,212,45)"/>
<polygon points="1806,-218 2031.5,392.2 2039.0,389.4" fill="rgb(252,216,43)"/>
<polygon points="1806,-218 2036.8,390.2 2044.3,387.4" fill="rgb(252,220,41)"/>
<polygon points="1806,-218 2042.2,388.2 2049.6,385.3" fill="rgb(251,224,38)"/>
<polygon points="1806,-218 2047.5,386.1 2054.9,383.2" fill="rgb(251,227,36)"/>
<polygon points="1806,-218 2052.8,384.0 2060.2,381.0" fill="rgb(251,231,33)"/>
<polygon points="1806,-218 2058.0,381.9 2065.4,378.8" fill="rgb(250,235,31)"/>
<polygon points="1806,-218 2063.3,379.7 2070.6,376.5" fill="rgb(250,239,28)"/>
<polygon points="1806,-218 2068.6,377.4 2075.9,374.2" fill="rgb(250,243,26)"/>
<polygon points="1806,-218 2073.8,375.1 2081.0,371.8" fill="rgb(249,247,23)"/>
<polygon points="1806,-218 2079.0,372.8 2086.2,369.4" fill="rgb(249,251,21)"/>
<polygon points="1806,-218 2084.2,370.4 2091.4,367.0" fill="rgb(249,251,21)"/>
<polygon points="1806,-218 2089.3,367.9 2096.5,364.5" fill="rgb(249,251,21)"/>
<polygon points="1806,-218 2094.5,365.5 2101.6,361.9" fill="rgb(249,251,21)"/>
<polygon points="1806,-218 2099.6,362.9 2106.7,359.3" fill="rgb(249,251,21)"/>
<polygon points="1806,-218 2104.7,360.4 2111.8,356.7" fill="rgb(249,251,21)"/>
<polygon points="1806,-218 2109.7,357.8 2116.8,354.0" fill="rgb(249,251,21)"/>
<polygon points="1806,-218 2114.8,355.1 2121.8,351.3" fill="rgb(249,251,21)"/>
<polygon points="1806,-218 2119.8,352.4 2126.8,348.6" fill="rgb(249,251,21)"/>
<polygon points="1806,-218 2124.8,349.7 2131.8,345.8" fill="rgb(249,251,21)"/>
<polygon points="1806,-218 2129.8,346.9 2136.7,342.9" fill="rgb(249,251,21)"/>
<polygon points="1806,-218 2134.7,344.1 2141.6,340.0" fill="rgb(249,251,21)"/>
<polygon points="1806,-218 2139.7,341.2 2146.5,337.1" fill="rgb(249,251,21)"/>
<polygon points="1806,-218 2144.6,338.3 2151.4,334.1" fill="rgb(249,251,21)"/>
</g></g>
</g>
<rect x="1727.2" y="46.7" width="274.7" height="303.2" fill="none" stroke="#2f6666" stroke-width="1"/>
<path d="M1754.2 46.7v4.0 M1754.2 349.9v-4.0 M1819.3 46.7v4.0 M1819.3 349.9v-4.0 M1884.7 46.7v4.0 M1884.7 349.9v-4.0 M1950.6 46.7v4.0 M1950.6 349.9v-4.0 M1727.2 107.0h4.0 M2001.9 107.0h-4.0 M1727.2 172.9h4.0 M2001.9 172.9h-4.0 M1727.2 237.4h4.0 M2001.9 237.4h-4.0 M1727.2 301.8h4.0 M2001.9 301.8h-4.0" stroke="#244" stroke-width="1" fill="none"/>
<rect x="2011.9" y="51.5" width="17.6" height="293.8" fill="url(#parV)" stroke="#333" stroke-width="1"/>
<path d="M2029.5 315.3h-4 M2029.5 285.8h-4 M2029.5 256.2h-4 M2029.5 226.7h-4 M2029.5 197.1h-4 M2029.5 167.5h-4 M2029.5 138.0h-4 M2029.5 108.4h-4 M2029.5 78.9h-4" stroke="#222" stroke-width="1" fill="none"/>
<text x="2034.5" y="85.9" font-size="25.8" text-anchor="start" fill="#000" >20</text>
<text x="2034.5" y="144.8" font-size="25.8" text-anchor="start" fill="#000" >10</text>
<text x="2034.5" y="204.1" font-size="25.8" text-anchor="start" fill="#000" >0</text>
<text x="2034.5" y="262.6" font-size="25.8" text-anchor="start" fill="#000" >-10</text>
<text x="2034.5" y="322.3" font-size="25.8" text-anchor="start" fill="#000" >-20</text>
<text x="2022.6" y="39.0" font-size="26.0" text-anchor="middle" fill="#000" >[°]</text>
<rect x="1732.6" y="417.4" width="276.9" height="303.1" fill="#fff" />
<g clip-path="url(#cp_l)">
<path d="M1732.6 619.5H2009.5" stroke="#333" stroke-width="1.3"/>
<polyline points="1733.0,462.0 1734.5,455.5 1735.3,458.0 1736.2,679.0 1739.5,681.0 1742.0,680.0 1744.2,677.0 1745.2,560.0 1746.4,461.0 1747.6,520.0 1748.8,600.0 1750.5,684.5 1753.2,685.5 1755.3,681.0 1756.3,560.0 1757.3,469.0 1757.3,468.7 1760.1,464.0 1762.5,460.8 1765.3,468.3 1769.0,464.5 1771.8,463.6 1774.2,464.5 1776.5,466.4 1779.3,479.0 1781.2,479.0 1783.6,473.4 1785.9,470.6 1788.0,473.9 1790.6,466.8 1792.5,470.6 1795.1,473.9 1797.6,471.5 1800.0,473.9 1802.3,470.6 1804.6,470.1 1807.0,474.8 1809.8,470.6 1813.5,465.9 1816.8,468.7 1820.6,469.2 1822.9,475.3 1826.2,473.4 1830.4,467.8 1833.7,472.5 1837.4,478.1 1841.2,476.2 1844.0,476.2 1846.8,471.1 1848.7,471.5 1851.0,476.7 1855.2,478.6 1858.0,483.7 1860.4,484.6 1863.7,492.1 1867.4,492.6 1870.2,495.0 1872.9,500.9 1877.2,490.6 1881.9,489.1 1887.5,495.2 1893.1,505.2 1899.6,499.9 1906.6,495.8 1909.0,507.4 1915.6,510.2 1921.2,518.7 1928.7,516.8 1933.4,521.5 1938.0,520.5 1942.7,527.1 1945.5,526.1 1949.3,538.3 1954.9,538.3 1958.6,536.4 1962.4,540.2 1967.1,549.6 1970.8,554.6 1973.6,557.0 1977.4,555.2 1983.0,558.4 1986.7,558.9 1992.3,562.7 1996.1,567.3 1999.8,571.1 2003.6,575.8 2007.3,578.6 2010.1,577.6" fill="none" stroke="#0072bd" stroke-width="2" stroke-linejoin="round" stroke-linecap="round"/>
<polyline points="1732.0,478.6 1734.4,473.4 1736.7,487.0 1739.1,484.6 1741.7,490.1 1744.2,487.0 1746.4,440.1 1748.4,481.8 1751.2,490.3 1753.5,506.0 1757.3,472.5 1760.1,462.6 1762.5,464.0 1764.8,473.4 1767.2,478.6 1769.5,473.9 1771.8,473.4 1774.7,471.1 1776.5,472.5 1778.9,480.4 1781.2,480.0 1783.6,474.8 1785.9,480.0 1788.0,487.0 1790.6,460.8 1792.5,476.2 1795.1,487.3 1797.6,480.0 1800.0,475.7 1802.3,476.2 1804.6,473.9 1807.0,485.1 1809.8,477.2 1813.5,467.3 1815.9,470.6 1818.2,472.5 1820.6,479.5 1822.9,480.9 1825.3,477.2 1829.0,472.5 1834.2,468.7 1838.8,471.5 1843.1,468.7 1846.3,467.8 1848.7,475.3 1851.0,484.2 1855.2,480.0 1858.0,485.6 1860.4,491.2 1863.7,496.4 1866.5,497.8 1869.3,496.8 1873.4,507.0 1880.9,494.3 1885.6,500.9 1889.3,504.6 1894.0,514.9 1900.6,505.5 1907.1,504.6 1910.9,509.3 1914.6,507.8 1918.4,516.8 1922.1,523.3 1927.7,514.9 1933.4,524.3 1937.1,526.1 1941.8,534.6" fill="none" stroke="#d95319" stroke-width="2" stroke-linejoin="round" stroke-linecap="round"/>
<polyline points="1733.0,658.0 1734.5,653.8 1736.6,666.4 1738.7,666.0 1741.9,669.6 1744.0,666.4 1746.1,621.1 1748.6,662.2 1751.3,674.8 1753.4,686.4 1756.2,674.8 1758.3,653.8 1760.4,642.8 1762.5,644.3 1764.6,651.6 1767.1,658.0 1770.3,653.8 1775.1,651.2 1776.6,652.7 1779.4,660.5 1781.5,660.1 1784.0,654.8 1787.8,666.4 1790.7,641.1 1792.8,656.9 1795.6,666.8 1799.8,655.4 1804.0,654.8 1806.7,664.7 1810.3,656.9 1813.9,648.5 1817.7,653.8 1821.5,660.5 1826.1,655.4 1830.3,651.6 1834.5,649.5 1839.8,651.6 1846.1,647.9 1848.9,655.9 1851.4,664.3 1855.6,660.1 1858.8,666.4 1861.9,672.7 1865.1,677.3 1867.8,675.9 1872.5,685.4 1874.0,687.3 1878.1,679.9 1881.5,674.2 1883.7,679.9 1888.4,683.6 1891.2,689.2 1894.0,695.2 1897.8,687.3 1899.6,684.5 1901.5,686.4 1907.1,684.0 1911.4,689.2 1914.1,688.3 1915.9,691.1 1918.4,698.6 1922.1,703.3 1924.9,698.6 1927.7,694.5 1930.2,696.3 1932.8,703.3 1937.1,705.1 1939.5,708.9 1941.8,534.6 1946.5,539.3 1950.2,537.0 1956.8,542.1 1958.6,540.2 1960.5,545.8 1966.1,553.3 1969.9,558.0 1974.6,562.7 1977.4,559.9 1980.2,563.2 1984.9,563.6 1989.5,567.0 1994.2,565.8 1999.8,565.5 2002.6,569.2 2005.4,577.6 2010.1,578.6" fill="none" stroke="#edb120" stroke-width="2" stroke-linejoin="round" stroke-linecap="round"/>
<polyline points="1733.0,568.4 1735.5,567.4 1739.3,571.6 1744.0,564.9 1746.1,577.9 1748.6,603.2 1751.3,573.7 1754.1,560.6 1756.2,565.3 1758.3,585.3 1760.4,586.8 1762.5,577.9 1764.6,584.7 1766.7,579.0 1769.2,579.0 1771.8,577.5 1776.6,583.2 1779.4,595.8 1780.8,597.9 1786.1,584.2 1789.3,584.7 1792.4,585.9 1796.6,583.8 1799.4,593.1 1801.9,586.8 1806.1,588.9 1813.5,584.2 1816.6,587.4 1820.9,583.2 1823.6,591.6 1826.1,592.7 1830.3,585.3 1832.4,589.5 1836.6,602.1 1839.8,600.0 1844.0,601.5 1848.9,590.1 1853.5,594.8 1856.0,597.3 1858.8,602.8 1860.2,601.1 1863.0,608.5 1866.6,611.6 1869.3,612.7 1872.5,619.6 1874.4,614.3 1877.2,603.4 1880.0,604.6 1882.8,607.8 1885.6,608.3 1888.4,616.2 1890.8,621.4 1894.0,619.0 1898.3,618.4 1902.5,613.4 1905.3,610.2 1907.1,611.5 1909.6,627.4 1911.8,630.2 1914.6,628.9 1918.4,630.8 1922.1,636.8 1925.9,640.9 1928.7,640.1 1930.5,640.5 1936.2,636.8 1940.8,639.6 1945.5,638.7 1947.4,646.1 1949.3,656.4 1951.1,660.2 1954.0,656.4 1955.8,657.4 1958.6,652.7 1960.5,652.1 1963.3,657.4 1967.6,670.5 1969.9,673.3 1972.1,672.0 1974.6,674.6 1979.2,671.4 1981.5,673.3 1983.9,677.6 1986.7,676.1 1988.6,676.1 1990.8,678.0 1993.3,563.2 1996.1,569.2 2000.8,576.7 2005.4,579.0 2010.1,578.2" fill="none" stroke="#7e2f8e" stroke-width="2" stroke-linejoin="round" stroke-linecap="round"/>
</g>
<rect x="1732.5" y="417.0" width="277.0" height="303.5" fill="none" stroke="#6a6a6a" stroke-width="1.4"/>
<path d="M1762.5 417.4v3.6 M1762.5 720.5v-3.6 M1837.8 417.4v3.6 M1837.8 720.5v-3.6 M1912.5 417.4v3.6 M1912.5 720.5v-3.6 M1988.6 417.4v3.6 M1988.6 720.5v-3.6 M1732.6 706.5h3.6 M2009.5 706.5h-3.6 M1732.6 677.5h3.6 M2009.5 677.5h-3.6 M1732.6 648.4h3.6 M2009.5 648.4h-3.6 M1732.6 619.4h3.6 M2009.5 619.4h-3.6 M1732.6 590.4h3.6 M2009.5 590.4h-3.6 M1732.6 561.3h3.6 M2009.5 561.3h-3.6 M1732.6 532.2h3.6 M2009.5 532.2h-3.6 M1732.6 503.2h3.6 M2009.5 503.2h-3.6 M1732.6 474.1h3.6 M2009.5 474.1h-3.6 M1732.6 445.1h3.6 M2009.5 445.1h-3.6" stroke="#444" stroke-width="1" fill="none"/>
<text x="1731.0" y="455.9" font-size="25.5" text-anchor="end" fill="#000" >600</text>
<text x="1731.0" y="514.9" font-size="25.5" text-anchor="end" fill="#000" >400</text>
<text x="1731.0" y="573.5" font-size="25.5" text-anchor="end" fill="#000" >200</text>
<text x="1731.0" y="630.7" font-size="25.5" text-anchor="end" fill="#000" >0</text>
<text x="1731.0" y="688.0" font-size="25.5" text-anchor="end" fill="#000" >-200</text>
<text x="1979.0" y="456.3" font-size="25.5" text-anchor="middle" fill="#000" >(l)</text>
<text transform="translate(1677.0,575.4) rotate(-90)" font-size="28.3" text-anchor="middle" fill="#000">Flow velocity [mm/s]</text>
<rect x="544.7" y="827.1" width="341.7" height="20.2" fill="url(#velH)" stroke="#444" stroke-width="1"/>
<path d="M601.9 847.3v-3.5 M658.8 847.3v-3.5 M715.7 847.3v-3.5 M772.6 847.3v-3.5 M829.5 847.3v-3.5" stroke="#222" stroke-width="1" fill="none"/>
<text x="538.0" y="821.0" font-size="25.8" text-anchor="middle" fill="#000" >-600</text>
<text x="604.6" y="821.0" font-size="25.8" text-anchor="middle" fill="#000" >-400</text>
<text x="671.9" y="821.0" font-size="25.8" text-anchor="middle" fill="#000" >-200</text>
<text x="722.2" y="821.0" font-size="25.8" text-anchor="middle" fill="#000" >0</text>
<text x="767.5" y="821.0" font-size="25.8" text-anchor="middle" fill="#000" >200</text>
<text x="826.1" y="821.0" font-size="25.8" text-anchor="middle" fill="#000" >400</text>
<text x="885.1" y="821.0" font-size="25.8" text-anchor="middle" fill="#000" >600</text>
<text x="895.0" y="842.0" font-size="26.0" text-anchor="start" fill="#000" >[mm/s]</text>
<rect x="1368.9" y="829.5" width="256.1" height="20.0" fill="url(#parH)" stroke="#444" stroke-width="1"/>
<path d="M1411.7 849.5v-3.5 M1454.5 849.5v-3.5 M1497.2 849.5v-3.5 M1540.0 849.5v-3.5 M1582.2 849.5v-3.5" stroke="#222" stroke-width="1" fill="none"/>
<text x="1356.0" y="820.6" font-size="26.0" text-anchor="middle" fill="#000" >-150</text>
<text x="1410.5" y="820.6" font-size="26.0" text-anchor="middle" fill="#000" >-100</text>
<text x="1454.2" y="820.6" font-size="26.0" text-anchor="middle" fill="#000" >-50</text>
<text x="1498.2" y="820.6" font-size="26.0" text-anchor="middle" fill="#000" >0</text>
<text x="1535.6" y="820.6" font-size="26.0" text-anchor="middle" fill="#000" >50</text>
<text x="1580.2" y="820.6" font-size="26.0" text-anchor="middle" fill="#000" >100</text>
<text x="1631.3" y="820.6" font-size="26.0" text-anchor="middle" fill="#000" >150</text>
<text x="1632.0" y="846.5" font-size="28.5" text-anchor="start" fill="#000" >[%]</text>
<rect x="1712.3" y="780.7" width="326.5" height="63.0" fill="#dcdcdc"/>
<path d="M1730.4 796.7H1772.9" stroke="#0072bd" stroke-width="2.2"/>
<path d="M1730.4 824.8H1772.9" stroke="#d95319" stroke-width="2.2"/>
<path d="M1912.1 796.7H1954.7" stroke="#edb120" stroke-width="2.2"/>
<path d="M1912.1 824.8H1954.7" stroke="#7e2f8e" stroke-width="2.2"/>
<text x="1777.5" y="805.3" font-size="25.7" text-anchor="start" fill="#000" >Dual-PRF</text>
<text x="1777.5" y="833.7" font-size="25.7" text-anchor="start" fill="#000" >Single-PRF</text>
<text x="1959.3" y="805.3" font-size="25.7" text-anchor="start" fill="#000" >PRF1</text>
<text x="1959.3" y="833.7" font-size="25.7" text-anchor="start" fill="#000" >PRF2</text>
<text x="236.2" y="36.7" font-size="28.4" text-anchor="middle" fill="#000" >PRF1</text>
<text x="553.0" y="36.7" font-size="28.4" text-anchor="middle" fill="#000" >PRF2</text>
<text x="858.7" y="36.7" font-size="28.4" text-anchor="middle" fill="#000" >Dual-PRF</text>
<text x="1182.3" y="36.7" font-size="28.4" text-anchor="middle" fill="#000" >Single-PRF</text>
<text x="1494.8" y="36.7" font-size="28.4" text-anchor="middle" fill="#000" >Percent error</text>
<text x="1874.8" y="22.4" font-size="28.4" text-anchor="middle" fill="#000" >Beam direction</text>
<text x="232.7" y="407.7" font-size="28.4" text-anchor="middle" fill="#000" >PRF1</text>
<text x="553.0" y="407.2" font-size="28.4" text-anchor="middle" fill="#000" >PRF2</text>
<text x="872.2" y="407.2" font-size="28.4" text-anchor="middle" fill="#000" >Dual-PRF</text>
<text x="1183.0" y="407.2" font-size="28.4" text-anchor="middle" fill="#000" >Single-PRF</text>
<text x="1495.9" y="407.2" font-size="28.4" text-anchor="middle" fill="#000" >Percent error</text>
<text x="127.8" y="372.0" font-size="25.8" text-anchor="middle" fill="#000" >-10</text>
<text x="190.4" y="372.0" font-size="25.8" text-anchor="middle" fill="#000" >0</text>
<text x="258.0" y="372.0" font-size="25.8" text-anchor="middle" fill="#000" >10</text>
<text x="326.7" y="372.0" font-size="25.8" text-anchor="middle" fill="#000" >20</text>
<text x="446.4" y="372.0" font-size="25.8" text-anchor="middle" fill="#000" >-10</text>
<text x="508.2" y="372.0" font-size="25.8" text-anchor="middle" fill="#000" >0</text>
<text x="576.3" y="372.0" font-size="25.8" text-anchor="middle" fill="#000" >10</text>
<text x="644.9" y="372.0" font-size="25.8" text-anchor="middle" fill="#000" >20</text>
<text x="763.6" y="378.3" font-size="25.8" text-anchor="middle" fill="#000" >-10</text>
<text x="825.1" y="378.3" font-size="25.8" text-anchor="middle" fill="#000" >0</text>
<text x="893.7" y="378.3" font-size="25.8" text-anchor="middle" fill="#000" >10</text>
<text x="962.3" y="378.3" font-size="25.8" text-anchor="middle" fill="#000" >20</text>
<text x="1072.0" y="378.3" font-size="25.8" text-anchor="middle" fill="#000" >-10</text>
<text x="1133.3" y="378.3" font-size="25.8" text-anchor="middle" fill="#000" >0</text>
<text x="1201.7" y="378.3" font-size="25.8" text-anchor="middle" fill="#000" >10</text>
<text x="1270.5" y="378.3" font-size="25.8" text-anchor="middle" fill="#000" >20</text>
<text x="1387.9" y="377.3" font-size="25.8" text-anchor="middle" fill="#000" >-10</text>
<text x="1449.8" y="377.3" font-size="25.8" text-anchor="middle" fill="#000" >0</text>
<text x="1518.4" y="377.3" font-size="25.8" text-anchor="middle" fill="#000" >10</text>
<text x="1586.0" y="377.3" font-size="25.8" text-anchor="middle" fill="#000" >20</text>
<text x="1760.5" y="368.6" font-size="25.8" text-anchor="middle" fill="#000" >-10</text>
<text x="1819.7" y="368.6" font-size="25.8" text-anchor="middle" fill="#000" >0</text>
<text x="1885.1" y="368.6" font-size="25.8" text-anchor="middle" fill="#000" >10</text>
<text x="1950.6" y="368.6" font-size="25.8" text-anchor="middle" fill="#000" >20</text>
<text x="131.5" y="746.8" font-size="25.8" text-anchor="middle" fill="#000" >-10</text>
<text x="193.5" y="746.8" font-size="25.8" text-anchor="middle" fill="#000" >0</text>
<text x="261.7" y="746.8" font-size="25.8" text-anchor="middle" fill="#000" >10</text>
<text x="330.0" y="746.8" font-size="25.8" text-anchor="middle" fill="#000" >20</text>
<text x="448.6" y="746.6" font-size="25.8" text-anchor="middle" fill="#000" >-10</text>
<text x="510.3" y="746.6" font-size="25.8" text-anchor="middle" fill="#000" >0</text>
<text x="578.7" y="746.6" font-size="25.8" text-anchor="middle" fill="#000" >10</text>
<text x="646.9" y="746.6" font-size="25.8" text-anchor="middle" fill="#000" >20</text>
<text x="766.5" y="745.2" font-size="25.8" text-anchor="middle" fill="#000" >-10</text>
<text x="828.4" y="745.2" font-size="25.8" text-anchor="middle" fill="#000" >0</text>
<text x="897.1" y="745.2" font-size="25.8" text-anchor="middle" fill="#000" >10</text>
<text x="965.4" y="745.2" font-size="25.8" text-anchor="middle" fill="#000" >20</text>
<text x="1075.2" y="743.2" font-size="25.8" text-anchor="middle" fill="#000" >-10</text>
<text x="1136.9" y="743.2" font-size="25.8" text-anchor="middle" fill="#000" >0</text>
<text x="1205.4" y="743.2" font-size="25.8" text-anchor="middle" fill="#000" >10</text>
<text x="1274.0" y="743.2" font-size="25.8" text-anchor="middle" fill="#000" >20</text>
<text x="1391.1" y="744.2" font-size="25.8" text-anchor="middle" fill="#000" >-10</text>
<text x="1452.8" y="744.2" font-size="25.8" text-anchor="middle" fill="#000" >0</text>
<text x="1521.0" y="744.2" font-size="25.8" text-anchor="middle" fill="#000" >10</text>
<text x="1589.4" y="744.2" font-size="25.8" text-anchor="middle" fill="#000" >20</text>
<text x="1764.9" y="745.4" font-size="25.8" text-anchor="middle" fill="#000" >-10</text>
<text x="1836.3" y="745.4" font-size="25.8" text-anchor="middle" fill="#000" >0</text>
<text x="1912.1" y="745.4" font-size="25.8" text-anchor="middle" fill="#000" >10</text>
<text x="1986.9" y="745.4" font-size="25.8" text-anchor="middle" fill="#000" >20</text>
<text x="248.5" y="772.7" font-size="25.2" text-anchor="middle" fill="#000" >Width [mm]</text>
<text x="555.1" y="772.1" font-size="25.2" text-anchor="middle" fill="#000" >Width [mm]</text>
<text x="884.4" y="770.7" font-size="25.2" text-anchor="middle" fill="#000" >Width [mm]</text>
<text x="1192.6" y="769.3" font-size="25.2" text-anchor="middle" fill="#000" >Width [mm]</text>
<text x="1508.4" y="769.7" font-size="25.2" text-anchor="middle" fill="#000" >Width [mm]</text>
<text x="1903.2" y="771.4" font-size="25.2" text-anchor="middle" fill="#000" >Width [mm]</text>
<text x="1878.6" y="394.9" font-size="25.2" text-anchor="middle" fill="#000" >Width [mm]</text>
<text x="94.0" y="110.6" font-size="25.8" text-anchor="end" fill="#000" >50</text>
<text x="94.0" y="180.8" font-size="25.8" text-anchor="end" fill="#000" >60</text>
<text x="94.0" y="246.4" font-size="25.8" text-anchor="end" fill="#000" >70</text>
<text x="94.0" y="314.2" font-size="25.8" text-anchor="end" fill="#000" >80</text>
<text x="407.3" y="110.7" font-size="25.8" text-anchor="end" fill="#000" >50</text>
<text x="407.3" y="180.9" font-size="25.8" text-anchor="end" fill="#000" >60</text>
<text x="407.3" y="246.1" font-size="25.8" text-anchor="end" fill="#000" >70</text>
<text x="407.3" y="313.6" font-size="25.8" text-anchor="end" fill="#000" >80</text>
<text x="729.5" y="117.4" font-size="25.8" text-anchor="end" fill="#000" >50</text>
<text x="729.5" y="187.9" font-size="25.8" text-anchor="end" fill="#000" >60</text>
<text x="729.5" y="253.3" font-size="25.8" text-anchor="end" fill="#000" >70</text>
<text x="729.5" y="320.7" font-size="25.8" text-anchor="end" fill="#000" >80</text>
<text x="1045.1" y="117.4" font-size="25.8" text-anchor="end" fill="#000" >50</text>
<text x="1045.1" y="187.9" font-size="25.8" text-anchor="end" fill="#000" >60</text>
<text x="1045.1" y="253.3" font-size="25.8" text-anchor="end" fill="#000" >70</text>
<text x="1045.1" y="320.7" font-size="25.8" text-anchor="end" fill="#000" >80</text>
<text x="1354.0" y="117.1" font-size="25.8" text-anchor="end" fill="#000" >50</text>
<text x="1354.0" y="186.4" font-size="25.8" text-anchor="end" fill="#000" >60</text>
<text x="1354.0" y="251.9" font-size="25.8" text-anchor="end" fill="#000" >70</text>
<text x="1354.0" y="319.8" font-size="25.8" text-anchor="end" fill="#000" >80</text>
<text x="1725.7" y="115.6" font-size="25.8" text-anchor="end" fill="#000" >50</text>
<text x="1725.7" y="184.5" font-size="25.8" text-anchor="end" fill="#000" >60</text>
<text x="1725.7" y="248.6" font-size="25.8" text-anchor="end" fill="#000" >70</text>
<text x="1725.7" y="313.2" font-size="25.8" text-anchor="end" fill="#000" >80</text>
<text x="97.1" y="486.2" font-size="25.8" text-anchor="end" fill="#000" >50</text>
<text x="97.1" y="555.7" font-size="25.8" text-anchor="end" fill="#000" >60</text>
<text x="97.1" y="622.4" font-size="25.8" text-anchor="end" fill="#000" >70</text>
<text x="97.1" y="688.4" font-size="25.8" text-anchor="end" fill="#000" >80</text>
<text x="410.9" y="482.5" font-size="25.8" text-anchor="end" fill="#000" >50</text>
<text x="410.9" y="552.0" font-size="25.8" text-anchor="end" fill="#000" >60</text>
<text x="410.9" y="618.4" font-size="25.8" text-anchor="end" fill="#000" >70</text>
<text x="410.9" y="684.4" font-size="25.8" text-anchor="end" fill="#000" >80</text>
<text x="732.0" y="484.9" font-size="25.8" text-anchor="end" fill="#000" >50</text>
<text x="732.0" y="554.6" font-size="25.8" text-anchor="end" fill="#000" >60</text>
<text x="732.0" y="619.4" font-size="25.8" text-anchor="end" fill="#000" >70</text>
<text x="732.0" y="687.2" font-size="25.8" text-anchor="end" fill="#000" >80</text>
<text x="1048.7" y="483.1" font-size="25.8" text-anchor="end" fill="#000" >50</text>
<text x="1048.7" y="552.4" font-size="25.8" text-anchor="end" fill="#000" >60</text>
<text x="1048.7" y="617.9" font-size="25.8" text-anchor="end" fill="#000" >70</text>
<text x="1048.7" y="684.6" font-size="25.8" text-anchor="end" fill="#000" >80</text>
<text x="1357.0" y="484.6" font-size="25.8" text-anchor="end" fill="#000" >50</text>
<text x="1357.0" y="553.9" font-size="25.8" text-anchor="end" fill="#000" >60</text>
<text x="1357.0" y="618.7" font-size="25.8" text-anchor="end" fill="#000" >70</text>
<text x="1357.0" y="685.8" font-size="25.8" text-anchor="end" fill="#000" >80</text>
<text transform="translate(24.0,209.0) rotate(-90)" font-size="28.8" text-anchor="middle" fill="#000">Slow flow phase</text>
<text transform="translate(23.6,580.0) rotate(-90)" font-size="28.8" text-anchor="middle" fill="#000">Fast flow phase</text>
<text transform="translate(56.2,199.0) rotate(-90)" font-size="25.5" text-anchor="middle" fill="#000">Depth [mm]</text>
<text transform="translate(59.7,574.6) rotate(-90)" font-size="25.5" text-anchor="middle" fill="#000">Depth [mm]</text>
<text transform="translate(1689.3,199.0) rotate(-90)" font-size="25.0" text-anchor="middle" fill="#000">Depth [mm]</text>
<text x="122.0" y="69.4" font-size="26.0" text-anchor="middle" fill="#fff" >(a)</text>
<text x="438.4" y="69.4" font-size="26.0" text-anchor="middle" fill="#fff" >(c)</text>
<text x="757.6" y="75.2" font-size="26.0" text-anchor="middle" fill="#fff" >(e)</text>
<text x="1074.4" y="70.7" font-size="26.0" text-anchor="middle" fill="#fff" >(g)</text>
<text x="1380.2" y="75.6" font-size="26.0" text-anchor="middle" fill="#fff" >(i)</text>
<text x="1748.5" y="79.9" font-size="26.0" text-anchor="middle" fill="#fff" >(k)</text>
<text x="126.4" y="442.8" font-size="26.0" text-anchor="middle" fill="#fff" >(b)</text>
<text x="440.2" y="442.3" font-size="26.0" text-anchor="middle" fill="#fff" >(d)</text>
<text x="762.3" y="445.9" font-size="26.0" text-anchor="middle" fill="#fff" >(f)</text>
<text x="1071.4" y="442.2" font-size="26.0" text-anchor="middle" fill="#fff" >(h)</text>
<text x="1384.2" y="449.9" font-size="26.0" text-anchor="middle" fill="#fff" >(j)</text>
</svg>
</body></html>
